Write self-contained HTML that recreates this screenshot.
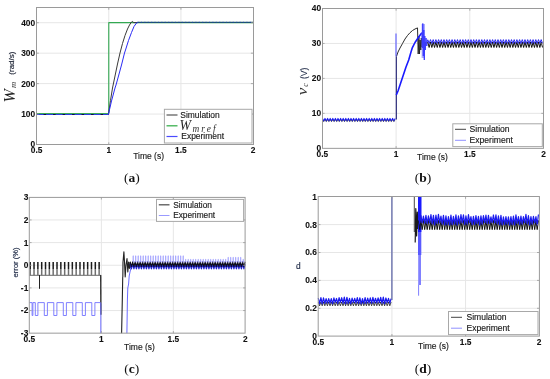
<!DOCTYPE html>
<html><head><meta charset="utf-8"><title>Figure</title>
<style>html,body{margin:0;padding:0;background:#fff;}svg{display:block;filter:blur(0.3px);}</style>
</head><body>
<svg width="550" height="379" viewBox="0 0 550 379">
<rect width="550" height="379" fill="#fff"/>
<line x1="108.77" y1="7.5" x2="108.77" y2="144.5" stroke="#e6e6e6" stroke-width="1" stroke-opacity="1"/>
<line x1="180.93" y1="7.5" x2="180.93" y2="144.5" stroke="#e6e6e6" stroke-width="1" stroke-opacity="1"/>
<line x1="36.6" y1="114.06" x2="253.1" y2="114.06" stroke="#e6e6e6" stroke-width="1" stroke-opacity="1"/>
<line x1="36.6" y1="83.61" x2="253.1" y2="83.61" stroke="#e6e6e6" stroke-width="1" stroke-opacity="1"/>
<line x1="36.6" y1="53.17" x2="253.1" y2="53.17" stroke="#e6e6e6" stroke-width="1" stroke-opacity="1"/>
<line x1="36.6" y1="22.72" x2="253.1" y2="22.72" stroke="#e6e6e6" stroke-width="1" stroke-opacity="1"/>
<line x1="36.6" y1="113.5" x2="108.77" y2="113.5" stroke="#3aaa55" stroke-width="1" stroke-opacity="1"/>
<line x1="36.6" y1="114.5" x2="108.77" y2="114.5" stroke="#101040" stroke-width="1" stroke-opacity="1"/>
<line x1="36.6" y1="114.5" x2="108.77" y2="114.5" stroke="#2a3ae0" stroke-width="1.0" stroke-dasharray="7 2.5"/>
<polyline points="108.77,113.5 108.77,22.6 253.1,22.6" fill="none" stroke="#33a852" stroke-width="1.1" stroke-opacity="1" stroke-linejoin="round" />
<polyline points="108.5,114 110.5,100.5 112.5,88 115,76 117.5,64 120,53 122.5,43.5 125,35.5 127.5,29 129.5,25 131.5,22 132.6,21.4 133.6,22.6 135,22.6 137,22.5" fill="none" stroke="#3a3a3a" stroke-width="1" stroke-opacity="1" stroke-linejoin="round" />
<polyline points="108.5,114 111.5,101 115,88 116,85 118.5,76 121.5,65 124.5,53 125.5,50 128.5,40.5 131.5,32.5 134,26.5 136.5,23 138,22.5" fill="none" stroke="#2b2bf5" stroke-width="1" stroke-opacity="1" stroke-linejoin="round" />
<line x1="137.5" y1="22.4" x2="253.1" y2="22.4" stroke="#1c5a66" stroke-width="1.2" stroke-opacity="1"/>
<line x1="137.5" y1="22.4" x2="253.1" y2="22.4" stroke="#2030c0" stroke-width="1.1" stroke-dasharray="1.2 2.2" stroke-opacity="0.6"/>
<line x1="108.77" y1="144.5" x2="108.77" y2="142.3" stroke="#9a9a9a" stroke-width="0.8" stroke-opacity="1"/>
<line x1="108.77" y1="7.5" x2="108.77" y2="9.7" stroke="#9a9a9a" stroke-width="0.8" stroke-opacity="1"/>
<line x1="180.93" y1="144.5" x2="180.93" y2="142.3" stroke="#9a9a9a" stroke-width="0.8" stroke-opacity="1"/>
<line x1="180.93" y1="7.5" x2="180.93" y2="9.7" stroke="#9a9a9a" stroke-width="0.8" stroke-opacity="1"/>
<line x1="36.6" y1="114.06" x2="38.8" y2="114.06" stroke="#9a9a9a" stroke-width="0.8" stroke-opacity="1"/>
<line x1="253.1" y1="114.06" x2="250.9" y2="114.06" stroke="#9a9a9a" stroke-width="0.8" stroke-opacity="1"/>
<line x1="36.6" y1="83.61" x2="38.8" y2="83.61" stroke="#9a9a9a" stroke-width="0.8" stroke-opacity="1"/>
<line x1="253.1" y1="83.61" x2="250.9" y2="83.61" stroke="#9a9a9a" stroke-width="0.8" stroke-opacity="1"/>
<line x1="36.6" y1="53.17" x2="38.8" y2="53.17" stroke="#9a9a9a" stroke-width="0.8" stroke-opacity="1"/>
<line x1="253.1" y1="53.17" x2="250.9" y2="53.17" stroke="#9a9a9a" stroke-width="0.8" stroke-opacity="1"/>
<line x1="36.6" y1="22.72" x2="38.8" y2="22.72" stroke="#9a9a9a" stroke-width="0.8" stroke-opacity="1"/>
<line x1="253.1" y1="22.72" x2="250.9" y2="22.72" stroke="#9a9a9a" stroke-width="0.8" stroke-opacity="1"/>
<rect x="36.5" y="7.5" width="217" height="137" fill="none" stroke="#9a9a9a" stroke-width="1"/>
<text x="35.2" y="147.4" font-size="8.4" text-anchor="end" font-weight="bold" font-family="'Liberation Sans', Arial, sans-serif" fill="#111" font-style="normal" stroke="#111" stroke-width="0.08">0</text>
<text x="35.2" y="116.96" font-size="8.4" text-anchor="end" font-weight="bold" font-family="'Liberation Sans', Arial, sans-serif" fill="#111" font-style="normal" stroke="#111" stroke-width="0.08">100</text>
<text x="35.2" y="86.51" font-size="8.4" text-anchor="end" font-weight="bold" font-family="'Liberation Sans', Arial, sans-serif" fill="#111" font-style="normal" stroke="#111" stroke-width="0.08">200</text>
<text x="35.2" y="56.07" font-size="8.4" text-anchor="end" font-weight="bold" font-family="'Liberation Sans', Arial, sans-serif" fill="#111" font-style="normal" stroke="#111" stroke-width="0.08">300</text>
<text x="35.2" y="25.62" font-size="8.4" text-anchor="end" font-weight="bold" font-family="'Liberation Sans', Arial, sans-serif" fill="#111" font-style="normal" stroke="#111" stroke-width="0.08">400</text>
<text x="36.6" y="153" font-size="8.4" text-anchor="middle" font-weight="bold" font-family="'Liberation Sans', Arial, sans-serif" fill="#111" font-style="normal" stroke="#111" stroke-width="0.08">0.5</text>
<text x="108.77" y="153" font-size="8.4" text-anchor="middle" font-weight="bold" font-family="'Liberation Sans', Arial, sans-serif" fill="#111" font-style="normal" stroke="#111" stroke-width="0.08">1</text>
<text x="180.93" y="153" font-size="8.4" text-anchor="middle" font-weight="bold" font-family="'Liberation Sans', Arial, sans-serif" fill="#111" font-style="normal" stroke="#111" stroke-width="0.08">1.5</text>
<text x="253.1" y="153" font-size="8.4" text-anchor="middle" font-weight="bold" font-family="'Liberation Sans', Arial, sans-serif" fill="#111" font-style="normal" stroke="#111" stroke-width="0.08">2</text>
<rect x="164.4" y="109.3" width="87.6" height="33.7" fill="#fff" stroke="#a8a8a8" stroke-width="1"/>
<line x1="166.5" y1="115" x2="177.5" y2="115" stroke="#555" stroke-width="1.2" stroke-opacity="1"/>
<text x="180.3" y="117.7" font-size="8.45" text-anchor="start" font-weight="normal" font-family="'Liberation Sans', Arial, sans-serif" fill="#1a1a1a" font-style="normal" stroke="#1a1a1a" stroke-width="0.15">Simulation</text>
<line x1="166.5" y1="125.8" x2="177.5" y2="125.8" stroke="#3cb050" stroke-width="1.3" stroke-opacity="1"/>
<line x1="166.5" y1="136.5" x2="177.5" y2="136.5" stroke="#4a4aff" stroke-width="1.2" stroke-opacity="1"/>
<text x="181.3" y="139.1" font-size="8.45" text-anchor="start" font-weight="normal" font-family="'Liberation Sans', Arial, sans-serif" fill="#1a1a1a" font-style="normal" stroke="#1a1a1a" stroke-width="0.15">Experiment</text>
<text x="179.6" y="130" font-size="13.8" text-anchor="start" font-weight="normal" font-family="'Liberation Serif', 'Times New Roman', serif" fill="#2a2a2a" font-style="italic" >W</text>
<text x="192.4" y="131.6" font-size="9.3" text-anchor="start" font-weight="normal" font-family="'Liberation Serif', 'Times New Roman', serif" fill="#2e2e2e" font-style="italic" letter-spacing="2.2">mref</text>
<g transform="translate(14.4,101.2) rotate(-90)">
<text x="-1.3" y="0.7" font-size="16" text-anchor="start" font-weight="normal" font-family="'Liberation Serif', 'Times New Roman', serif" fill="#222" font-style="italic" >W</text>
<text x="13.2" y="1.5" font-size="8.6" text-anchor="start" font-weight="normal" font-family="'Liberation Serif', 'Times New Roman', serif" fill="#333" font-style="italic" transform="scale(1,0.85)" transform-origin="13.2 1.5">m</text>
<text x="26.5" y="-0.4" font-size="8" text-anchor="start" font-weight="normal" font-family="'Liberation Sans', Arial, sans-serif" fill="#2a3040" font-style="normal" stroke="#2a3040" stroke-width="0.2">(rad/s)</text>
</g>
<text x="133.2" y="159" font-size="8.5" text-anchor="start" font-weight="normal" font-family="'Liberation Sans', Arial, sans-serif" fill="#1a1a1a" font-style="normal" stroke="#1a1a1a" stroke-width="0.15">Time (s)</text>
<text x="131.9" y="182.2" font-size="13.5" text-anchor="middle" font-weight="normal" font-family="'Liberation Serif', 'Times New Roman', serif" fill="#111" font-style="normal" >(<tspan font-weight="bold">a</tspan>)</text>
<line x1="396.1" y1="8.5" x2="396.1" y2="148.3" stroke="#e6e6e6" stroke-width="1" stroke-opacity="1"/>
<line x1="469.8" y1="8.5" x2="469.8" y2="148.3" stroke="#e6e6e6" stroke-width="1" stroke-opacity="1"/>
<line x1="322.4" y1="113.35" x2="543.5" y2="113.35" stroke="#e6e6e6" stroke-width="1" stroke-opacity="1"/>
<line x1="322.4" y1="78.4" x2="543.5" y2="78.4" stroke="#e6e6e6" stroke-width="1" stroke-opacity="1"/>
<line x1="322.4" y1="43.45" x2="543.5" y2="43.45" stroke="#e6e6e6" stroke-width="1" stroke-opacity="1"/>
<polyline points="322.4,118.42 323.7,121.04 325,118.42 326.3,121.04 327.6,118.42 328.9,121.04 330.2,118.42 331.5,121.04 332.8,118.42 334.1,121.04 335.4,118.42 336.7,121.04 338,118.42 339.3,121.04 340.6,118.42 341.9,121.04 343.2,118.42 344.5,121.04 345.8,118.42 347.1,121.04 348.4,118.42 349.7,121.04 351,118.42 352.3,121.04 353.6,118.42 354.9,121.04 356.2,118.42 357.5,121.04 358.8,118.42 360.1,121.04 361.4,118.42 362.7,121.04 364,118.42 365.3,121.04 366.6,118.42 367.9,121.04 369.2,118.42 370.5,121.04 371.8,118.42 373.1,121.04 374.4,118.42 375.7,121.04 377,118.42 378.3,121.04 379.6,118.42 380.9,121.04 382.2,118.42 383.5,121.04 384.8,118.42 386.1,121.04 387.4,118.42 388.7,121.04 390,118.42 391.3,121.04 392.6,118.42 393.9,121.04 395.2,118.42" fill="none" stroke="#2020ee" stroke-width="1.1" stroke-opacity="1" stroke-linejoin="round" />
<polyline points="322.4,120.34 323.7,121.46 325,120.34 326.3,121.46 327.6,120.34 328.9,121.46 330.2,120.34 331.5,121.46 332.8,120.34 334.1,121.46 335.4,120.34 336.7,121.46 338,120.34 339.3,121.46 340.6,120.34 341.9,121.46 343.2,120.34 344.5,121.46 345.8,120.34 347.1,121.46 348.4,120.34 349.7,121.46 351,120.34 352.3,121.46 353.6,120.34 354.9,121.46 356.2,120.34 357.5,121.46 358.8,120.34 360.1,121.46 361.4,120.34 362.7,121.46 364,120.34 365.3,121.46 366.6,120.34 367.9,121.46 369.2,120.34 370.5,121.46 371.8,120.34 373.1,121.46 374.4,120.34 375.7,121.46 377,120.34 378.3,121.46 379.6,120.34 380.9,121.46 382.2,120.34 383.5,121.46 384.8,120.34 386.1,121.46 387.4,120.34 388.7,121.46 390,120.34 391.3,121.46 392.6,120.34 393.9,121.46 395.2,120.34" fill="none" stroke="#111" stroke-width="0.8" stroke-opacity="0.7" stroke-linejoin="round" />
<line x1="396.3" y1="119.5" x2="396.3" y2="56.4" stroke="#1a1a70" stroke-width="1.1" stroke-opacity="1"/>
<polyline points="396.5,56.4 398,52 400,48 402.5,43.5 405,39 407.5,35.5 410,32.7 412.5,30.5 415,29 417.5,27.9 418.2,54 418.9,36 419.5,54 420.1,40 420.8,50 421.3,38 422,47 423,40 424,46 425,42 426,46" fill="none" stroke="#222" stroke-width="0.95" stroke-opacity="1" stroke-linejoin="round" />
<line x1="396" y1="56.4" x2="396" y2="33.5" stroke="#4848ff" stroke-width="1" stroke-opacity="1"/>
<polyline points="396.3,95 398,91 400,85 403,76 406,67 408.7,60 411,52 412.4,47.6 415,42.5 417.7,38.5 420,35.2 421.9,32.7" fill="none" stroke="#1a1aff" stroke-width="1.6" stroke-opacity="1" stroke-linejoin="round" />
<rect x="421.6" y="24" width="3.4" height="34" fill="#6a6aff" fill-opacity="0.55"/>
<polyline points="421.9,32.7 422.3,48 422.8,23.5 423.3,56 423.8,30 424.3,60 424.8,36 425.3,50 426,38 426.8,46 427.5,40" fill="none" stroke="#3a3aff" stroke-width="1" stroke-opacity="1" stroke-linejoin="round" />
<polyline points="427.79,42.05 429.14,47.47 430.49,42.05 431.84,47.47 433.19,42.05 434.54,47.47 435.89,42.05 437.24,47.47 438.59,42.05 439.94,47.47 441.29,42.05 442.64,47.47 443.99,42.05 445.34,47.47 446.69,42.05 448.04,47.47 449.39,42.05 450.74,47.47 452.09,42.05 453.44,47.47 454.79,42.05 456.14,47.47 457.49,42.05 458.84,47.47 460.19,42.05 461.54,47.47 462.89,42.05 464.24,47.47 465.59,42.05 466.94,47.47 468.29,42.05 469.64,47.47 470.99,42.05 472.34,47.47 473.69,42.05 475.04,47.47 476.39,42.05 477.74,47.47 479.09,42.05 480.44,47.47 481.79,42.05 483.14,47.47 484.49,42.05 485.84,47.47 487.19,42.05 488.54,47.47 489.89,42.05 491.24,47.47 492.59,42.05 493.94,47.47 495.29,42.05 496.64,47.47 497.99,42.05 499.34,47.47 500.69,42.05 502.04,47.47 503.39,42.05 504.74,47.47 506.09,42.05 507.44,47.47 508.79,42.05 510.14,47.47 511.49,42.05 512.84,47.47 514.19,42.05 515.54,47.47 516.89,42.05 518.24,47.47 519.59,42.05 520.94,47.47 522.29,42.05 523.64,47.47 524.99,42.05 526.34,47.47 527.69,42.05 529.04,47.47 530.39,42.05 531.74,47.47 533.09,42.05 534.44,47.47 535.79,42.05 537.14,47.47 538.49,42.05 539.84,47.47 541.19,42.05 542.54,47.47" fill="none" stroke="#111" stroke-width="1" stroke-opacity="1" stroke-linejoin="round" />
<polyline points="427.79,39.61 429.14,43.45 430.49,39.61 431.84,43.45 433.19,39.61 434.54,43.45 435.89,39.61 437.24,43.45 438.59,39.61 439.94,43.45 441.29,39.61 442.64,43.45 443.99,39.61 445.34,43.45 446.69,39.61 448.04,43.45 449.39,39.61 450.74,43.45 452.09,39.61 453.44,43.45 454.79,39.61 456.14,43.45 457.49,39.61 458.84,43.45 460.19,39.61 461.54,43.45 462.89,39.61 464.24,43.45 465.59,39.61 466.94,43.45 468.29,39.61 469.64,43.45 470.99,39.61 472.34,43.45 473.69,39.61 475.04,43.45 476.39,39.61 477.74,43.45 479.09,39.61 480.44,43.45 481.79,39.61 483.14,43.45 484.49,39.61 485.84,43.45 487.19,39.61 488.54,43.45 489.89,39.61 491.24,43.45 492.59,39.61 493.94,43.45 495.29,39.61 496.64,43.45 497.99,39.61 499.34,43.45 500.69,39.61 502.04,43.45 503.39,39.61 504.74,43.45 506.09,39.61 507.44,43.45 508.79,39.61 510.14,43.45 511.49,39.61 512.84,43.45 514.19,39.61 515.54,43.45 516.89,39.61 518.24,43.45 519.59,39.61 520.94,43.45 522.29,39.61 523.64,43.45 524.99,39.61 526.34,43.45 527.69,39.61 529.04,43.45 530.39,39.61 531.74,43.45 533.09,39.61 534.44,43.45 535.79,39.61 537.14,43.45 538.49,39.61 539.84,43.45 541.19,39.61 542.54,43.45" fill="none" stroke="#2828f0" stroke-width="1" stroke-opacity="1" stroke-linejoin="round" />
<line x1="396.1" y1="148.3" x2="396.1" y2="146.1" stroke="#9a9a9a" stroke-width="0.8" stroke-opacity="1"/>
<line x1="396.1" y1="8.5" x2="396.1" y2="10.7" stroke="#9a9a9a" stroke-width="0.8" stroke-opacity="1"/>
<line x1="469.8" y1="148.3" x2="469.8" y2="146.1" stroke="#9a9a9a" stroke-width="0.8" stroke-opacity="1"/>
<line x1="469.8" y1="8.5" x2="469.8" y2="10.7" stroke="#9a9a9a" stroke-width="0.8" stroke-opacity="1"/>
<line x1="322.4" y1="113.35" x2="324.6" y2="113.35" stroke="#9a9a9a" stroke-width="0.8" stroke-opacity="1"/>
<line x1="543.5" y1="113.35" x2="541.3" y2="113.35" stroke="#9a9a9a" stroke-width="0.8" stroke-opacity="1"/>
<line x1="322.4" y1="78.4" x2="324.6" y2="78.4" stroke="#9a9a9a" stroke-width="0.8" stroke-opacity="1"/>
<line x1="543.5" y1="78.4" x2="541.3" y2="78.4" stroke="#9a9a9a" stroke-width="0.8" stroke-opacity="1"/>
<line x1="322.4" y1="43.45" x2="324.6" y2="43.45" stroke="#9a9a9a" stroke-width="0.8" stroke-opacity="1"/>
<line x1="543.5" y1="43.45" x2="541.3" y2="43.45" stroke="#9a9a9a" stroke-width="0.8" stroke-opacity="1"/>
<rect x="322.5" y="8.5" width="221" height="139.85" fill="none" stroke="#9a9a9a" stroke-width="1"/>
<text x="321.1" y="151.2" font-size="8.4" text-anchor="end" font-weight="bold" font-family="'Liberation Sans', Arial, sans-serif" fill="#111" font-style="normal" stroke="#111" stroke-width="0.08">0</text>
<text x="321.1" y="116.25" font-size="8.4" text-anchor="end" font-weight="bold" font-family="'Liberation Sans', Arial, sans-serif" fill="#111" font-style="normal" stroke="#111" stroke-width="0.08">10</text>
<text x="321.1" y="81.3" font-size="8.4" text-anchor="end" font-weight="bold" font-family="'Liberation Sans', Arial, sans-serif" fill="#111" font-style="normal" stroke="#111" stroke-width="0.08">20</text>
<text x="321.1" y="46.35" font-size="8.4" text-anchor="end" font-weight="bold" font-family="'Liberation Sans', Arial, sans-serif" fill="#111" font-style="normal" stroke="#111" stroke-width="0.08">30</text>
<text x="321.1" y="11.4" font-size="8.4" text-anchor="end" font-weight="bold" font-family="'Liberation Sans', Arial, sans-serif" fill="#111" font-style="normal" stroke="#111" stroke-width="0.08">40</text>
<text x="322.4" y="157.3" font-size="8.4" text-anchor="middle" font-weight="bold" font-family="'Liberation Sans', Arial, sans-serif" fill="#111" font-style="normal" stroke="#111" stroke-width="0.08">0.5</text>
<text x="396.1" y="157.3" font-size="8.4" text-anchor="middle" font-weight="bold" font-family="'Liberation Sans', Arial, sans-serif" fill="#111" font-style="normal" stroke="#111" stroke-width="0.08">1</text>
<text x="469.8" y="157.3" font-size="8.4" text-anchor="middle" font-weight="bold" font-family="'Liberation Sans', Arial, sans-serif" fill="#111" font-style="normal" stroke="#111" stroke-width="0.08">1.5</text>
<text x="543.5" y="157.3" font-size="8.4" text-anchor="middle" font-weight="bold" font-family="'Liberation Sans', Arial, sans-serif" fill="#111" font-style="normal" stroke="#111" stroke-width="0.08">2</text>
<rect x="452.8" y="123.8" width="89.5" height="22.8" fill="#fff" stroke="#a8a8a8" stroke-width="1"/>
<line x1="455" y1="129.3" x2="466" y2="129.3" stroke="#444" stroke-width="1" stroke-opacity="1"/>
<text x="469.5" y="132.4" font-size="8.6" text-anchor="start" font-weight="normal" font-family="'Liberation Sans', Arial, sans-serif" fill="#1a1a1a" font-style="normal" stroke="#1a1a1a" stroke-width="0.15">Simulation</text>
<line x1="455" y1="140.3" x2="466" y2="140.3" stroke="#9090ff" stroke-width="1" stroke-opacity="1"/>
<text x="469.5" y="142.5" font-size="8.6" text-anchor="start" font-weight="normal" font-family="'Liberation Sans', Arial, sans-serif" fill="#1a1a1a" font-style="normal" stroke="#1a1a1a" stroke-width="0.15">Experiment</text>
<g transform="translate(306.6,95.3) rotate(-90)">
<text x="0" y="0" font-size="14.5" text-anchor="start" font-weight="normal" font-family="'Liberation Serif', 'Times New Roman', serif" fill="#333" font-style="italic" transform="scale(1.18,1)">v</text>
<text x="8.6" y="1.2" font-size="8" text-anchor="start" font-weight="normal" font-family="'Liberation Serif', 'Times New Roman', serif" fill="#444" font-style="italic" >c</text>
<text x="16.3" y="0.2" font-size="8.6" text-anchor="start" font-weight="normal" font-family="'Liberation Sans', Arial, sans-serif" fill="#2a3550" font-style="normal" stroke="#2a3550" stroke-width="0.15">(V)</text>
</g>
<text x="417.1" y="159.7" font-size="8.5" text-anchor="start" font-weight="normal" font-family="'Liberation Sans', Arial, sans-serif" fill="#1a1a1a" font-style="normal" stroke="#1a1a1a" stroke-width="0.15">Time (s)</text>
<text x="423" y="181.8" font-size="13.5" text-anchor="middle" font-weight="normal" font-family="'Liberation Serif', 'Times New Roman', serif" fill="#111" font-style="normal" >(<tspan font-weight="bold">b</tspan>)</text>
<line x1="101.37" y1="197.3" x2="101.37" y2="333.2" stroke="#e6e6e6" stroke-width="1" stroke-opacity="1"/>
<line x1="173.33" y1="197.3" x2="173.33" y2="333.2" stroke="#e6e6e6" stroke-width="1" stroke-opacity="1"/>
<line x1="29.4" y1="310.55" x2="245.3" y2="310.55" stroke="#e6e6e6" stroke-width="1" stroke-opacity="1"/>
<line x1="29.4" y1="287.9" x2="245.3" y2="287.9" stroke="#e6e6e6" stroke-width="1" stroke-opacity="1"/>
<line x1="29.4" y1="265.25" x2="245.3" y2="265.25" stroke="#e6e6e6" stroke-width="1" stroke-opacity="1"/>
<line x1="29.4" y1="242.6" x2="245.3" y2="242.6" stroke="#e6e6e6" stroke-width="1" stroke-opacity="1"/>
<line x1="29.4" y1="219.95" x2="245.3" y2="219.95" stroke="#e6e6e6" stroke-width="1" stroke-opacity="1"/>
<line x1="29.4" y1="275.3" x2="100.6" y2="275.3" stroke="#6a6a6a" stroke-width="1" stroke-opacity="1"/>
<line x1="30.2" y1="262" x2="30.2" y2="269" stroke="#1a1a1a" stroke-width="1.5" stroke-opacity="1"/>
<line x1="30.2" y1="269" x2="30.2" y2="275.3" stroke="#707070" stroke-width="1.5" stroke-opacity="1"/>
<line x1="34.03" y1="262" x2="34.03" y2="269" stroke="#1a1a1a" stroke-width="1.5" stroke-opacity="1"/>
<line x1="34.03" y1="269" x2="34.03" y2="275.3" stroke="#707070" stroke-width="1.5" stroke-opacity="1"/>
<line x1="37.86" y1="262" x2="37.86" y2="269" stroke="#1a1a1a" stroke-width="1.5" stroke-opacity="1"/>
<line x1="37.86" y1="269" x2="37.86" y2="275.3" stroke="#707070" stroke-width="1.5" stroke-opacity="1"/>
<line x1="41.69" y1="262" x2="41.69" y2="269" stroke="#1a1a1a" stroke-width="1.5" stroke-opacity="1"/>
<line x1="41.69" y1="269" x2="41.69" y2="275.3" stroke="#707070" stroke-width="1.5" stroke-opacity="1"/>
<line x1="45.52" y1="262" x2="45.52" y2="269" stroke="#1a1a1a" stroke-width="1.5" stroke-opacity="1"/>
<line x1="45.52" y1="269" x2="45.52" y2="275.3" stroke="#707070" stroke-width="1.5" stroke-opacity="1"/>
<line x1="49.35" y1="262" x2="49.35" y2="269" stroke="#1a1a1a" stroke-width="1.5" stroke-opacity="1"/>
<line x1="49.35" y1="269" x2="49.35" y2="275.3" stroke="#707070" stroke-width="1.5" stroke-opacity="1"/>
<line x1="53.18" y1="262" x2="53.18" y2="269" stroke="#1a1a1a" stroke-width="1.5" stroke-opacity="1"/>
<line x1="53.18" y1="269" x2="53.18" y2="275.3" stroke="#707070" stroke-width="1.5" stroke-opacity="1"/>
<line x1="57.01" y1="262" x2="57.01" y2="269" stroke="#1a1a1a" stroke-width="1.5" stroke-opacity="1"/>
<line x1="57.01" y1="269" x2="57.01" y2="275.3" stroke="#707070" stroke-width="1.5" stroke-opacity="1"/>
<line x1="60.84" y1="262" x2="60.84" y2="269" stroke="#1a1a1a" stroke-width="1.5" stroke-opacity="1"/>
<line x1="60.84" y1="269" x2="60.84" y2="275.3" stroke="#707070" stroke-width="1.5" stroke-opacity="1"/>
<line x1="64.67" y1="262" x2="64.67" y2="269" stroke="#1a1a1a" stroke-width="1.5" stroke-opacity="1"/>
<line x1="64.67" y1="269" x2="64.67" y2="275.3" stroke="#707070" stroke-width="1.5" stroke-opacity="1"/>
<line x1="68.5" y1="262" x2="68.5" y2="269" stroke="#1a1a1a" stroke-width="1.5" stroke-opacity="1"/>
<line x1="68.5" y1="269" x2="68.5" y2="275.3" stroke="#707070" stroke-width="1.5" stroke-opacity="1"/>
<line x1="72.33" y1="262" x2="72.33" y2="269" stroke="#1a1a1a" stroke-width="1.5" stroke-opacity="1"/>
<line x1="72.33" y1="269" x2="72.33" y2="275.3" stroke="#707070" stroke-width="1.5" stroke-opacity="1"/>
<line x1="76.16" y1="262" x2="76.16" y2="269" stroke="#1a1a1a" stroke-width="1.5" stroke-opacity="1"/>
<line x1="76.16" y1="269" x2="76.16" y2="275.3" stroke="#707070" stroke-width="1.5" stroke-opacity="1"/>
<line x1="79.99" y1="262" x2="79.99" y2="269" stroke="#1a1a1a" stroke-width="1.5" stroke-opacity="1"/>
<line x1="79.99" y1="269" x2="79.99" y2="275.3" stroke="#707070" stroke-width="1.5" stroke-opacity="1"/>
<line x1="83.82" y1="262" x2="83.82" y2="269" stroke="#1a1a1a" stroke-width="1.5" stroke-opacity="1"/>
<line x1="83.82" y1="269" x2="83.82" y2="275.3" stroke="#707070" stroke-width="1.5" stroke-opacity="1"/>
<line x1="87.65" y1="262" x2="87.65" y2="269" stroke="#1a1a1a" stroke-width="1.5" stroke-opacity="1"/>
<line x1="87.65" y1="269" x2="87.65" y2="275.3" stroke="#707070" stroke-width="1.5" stroke-opacity="1"/>
<line x1="91.48" y1="262" x2="91.48" y2="269" stroke="#1a1a1a" stroke-width="1.5" stroke-opacity="1"/>
<line x1="91.48" y1="269" x2="91.48" y2="275.3" stroke="#707070" stroke-width="1.5" stroke-opacity="1"/>
<line x1="95.31" y1="262" x2="95.31" y2="269" stroke="#1a1a1a" stroke-width="1.5" stroke-opacity="1"/>
<line x1="95.31" y1="269" x2="95.31" y2="275.3" stroke="#707070" stroke-width="1.5" stroke-opacity="1"/>
<line x1="99.14" y1="262" x2="99.14" y2="269" stroke="#1a1a1a" stroke-width="1.5" stroke-opacity="1"/>
<line x1="99.14" y1="269" x2="99.14" y2="275.3" stroke="#707070" stroke-width="1.5" stroke-opacity="1"/>
<line x1="39.5" y1="275" x2="39.5" y2="288.8" stroke="#222" stroke-width="1" stroke-opacity="1"/>
<polyline points="100.7,275 100.9,314.7" fill="none" stroke="#333" stroke-width="1.4" stroke-opacity="1" stroke-linejoin="round" />
<polyline points="29.4,302.6 32.1,302.6 32.1,315.5 32.9,315.5 32.9,302.6 35.3,302.6 35.3,315.5 37.9,315.5 37.9,302.6 44.3,302.6 44.3,315.5 47.4,315.5 47.4,302.6 53.8,302.6 53.8,315.5 56.9,315.5 56.9,302.6 63.3,302.6 63.3,315.5 66.4,315.5 66.4,302.6 72.8,302.6 72.8,315.5 75.9,315.5 75.9,302.6 82.3,302.6 82.3,315.5 85.4,315.5 85.4,302.6 91.8,302.6 91.8,315.5 94.9,315.5 94.9,302.6 100.6,302.6" fill="none" stroke="#7272ff" stroke-width="0.9" stroke-opacity="1" stroke-linejoin="round" stroke-linejoin="miter"/>
<line x1="100.8" y1="302.8" x2="100.8" y2="333.2" stroke="#7070ff" stroke-width="1" stroke-opacity="1"/>
<polyline points="121.6,333.2 122.3,300 123,262 123.9,251.9 124.5,262 125.2,277 126,265 127,258.5 127.8,272 128.6,262 129.4,268.5 130.2,262 131,268" fill="none" stroke="#222" stroke-width="1.1" stroke-opacity="1" stroke-linejoin="round" />
<line x1="122.9" y1="262" x2="122.9" y2="277" stroke="#777" stroke-width="0.8" stroke-opacity="1"/>
<polyline points="126.9,333.2 127.4,300 127.8,288 128.6,284 129.2,276 130,272 130.8,268.7 131.6,264" fill="none" stroke="#6a6aff" stroke-width="1" stroke-opacity="1" stroke-linejoin="round" />
<polyline points="130.15,264 131.4,268.81 132.65,264 133.9,268.81 135.15,264 136.4,268.81 137.65,264 138.9,268.81 140.15,264 141.4,268.81 142.65,264 143.9,268.81 145.15,264 146.4,268.81 147.65,264 148.9,268.81 150.15,264 151.4,268.81 152.65,264 153.9,268.81 155.15,264 156.4,268.81 157.65,264 158.9,268.81 160.15,264 161.4,268.81 162.65,264 163.9,268.81 165.15,264 166.4,268.81 167.65,264 168.9,268.81 170.15,264 171.4,268.81 172.65,264 173.9,268.81 175.15,264 176.4,268.81 177.65,264 178.9,268.81 180.15,264 181.4,268.81 182.65,264 183.9,268.81 185.15,264 186.4,268.81 187.65,264 188.9,268.81 190.15,264 191.4,268.81 192.65,264 193.9,268.81 195.15,264 196.4,268.81 197.65,264 198.9,268.81 200.15,264 201.4,268.81 202.65,264 203.9,268.81 205.15,264 206.4,268.81 207.65,264 208.9,268.81 210.15,264 211.4,268.81 212.65,264 213.9,268.81 215.15,264 216.4,268.81 217.65,264 218.9,268.81 220.15,264 221.4,268.81 222.65,264 223.9,268.81 225.15,264 226.4,268.81 227.65,264 228.9,268.81 230.15,264 231.4,268.81 232.65,264 233.9,268.81 235.15,264 236.4,268.81 237.65,264 238.9,268.81 240.15,264 241.4,268.81 242.65,264 243.9,268.81 245.15,264" fill="none" stroke="#2020d0" stroke-width="1.2" stroke-opacity="1" stroke-linejoin="round" />
<polyline points="130.15,261.81 131.4,266.5 132.65,261.81 133.9,266.5 135.15,261.81 136.4,266.5 137.65,261.81 138.9,266.5 140.15,261.81 141.4,266.5 142.65,261.81 143.9,266.5 145.15,261.81 146.4,266.5 147.65,261.81 148.9,266.5 150.15,261.81 151.4,266.5 152.65,261.81 153.9,266.5 155.15,261.81 156.4,266.5 157.65,261.81 158.9,266.5 160.15,261.81 161.4,266.5 162.65,261.81 163.9,266.5 165.15,261.81 166.4,266.5 167.65,261.81 168.9,266.5 170.15,261.81 171.4,266.5 172.65,261.81 173.9,266.5 175.15,261.81 176.4,266.5 177.65,261.81 178.9,266.5 180.15,261.81 181.4,266.5 182.65,261.81 183.9,266.5 185.15,261.81 186.4,266.5 187.65,261.81 188.9,266.5 190.15,261.81 191.4,266.5 192.65,261.81 193.9,266.5 195.15,261.81 196.4,266.5 197.65,261.81 198.9,266.5 200.15,261.81 201.4,266.5 202.65,261.81 203.9,266.5 205.15,261.81 206.4,266.5 207.65,261.81 208.9,266.5 210.15,261.81 211.4,266.5 212.65,261.81 213.9,266.5 215.15,261.81 216.4,266.5 217.65,261.81 218.9,266.5 220.15,261.81 221.4,266.5 222.65,261.81 223.9,266.5 225.15,261.81 226.4,266.5 227.65,261.81 228.9,266.5 230.15,261.81 231.4,266.5 232.65,261.81 233.9,266.5 235.15,261.81 236.4,266.5 237.65,261.81 238.9,266.5 240.15,261.81 241.4,266.5 242.65,261.81 243.9,266.5 245.15,261.81" fill="none" stroke="#101020" stroke-width="1.1" stroke-opacity="1" stroke-linejoin="round" />
<polyline points="133,262 133,255.8 133.4,255.8 133.4,262 135.5,262 135.5,262 135.5,255.8 135.9,255.8 135.9,262 138,262 138,262 138,255.8 138.4,255.8 138.4,262 140.5,262 140.5,262 140.5,255.8 140.9,255.8 140.9,262 143,262 143,262 143,255.8 143.4,255.8 143.4,262 145.5,262 145.5,262 145.5,255.8 145.9,255.8 145.9,262 148,262 148,262 148,255.8 148.4,255.8 148.4,262 150.5,262 150.5,262 150.5,255.8 150.9,255.8 150.9,262 153,262 153,262 153,255.8 153.4,255.8 153.4,262 155.5,262 155.5,262 155.5,255.8 155.9,255.8 155.9,262 158,262 158,262 158,255.8 158.4,255.8 158.4,262 160.5,262 160.5,262 160.5,255.8 160.9,255.8 160.9,262 163,262 163,262 163,255.8 163.4,255.8 163.4,262 165.5,262 165.5,262 165.5,255.8 165.9,255.8 165.9,262 168,262 168,262 168,255.8 168.4,255.8 168.4,262 170.5,262 170.5,262 170.5,255.8 170.9,255.8 170.9,262 173,262 173,262 173,255.8 173.4,255.8 173.4,262 175.5,262 175.5,262 175.5,255.8 175.9,255.8 175.9,262 178,262 178,262 178,255.8 178.4,255.8 178.4,262 180.5,262 180.5,262 180.5,255.8 180.9,255.8 180.9,262 183,262 183,262 183,255.8 183.4,255.8 183.4,262 185.5,262 185.5,262 185.5,259.3 185.9,259.3 185.9,262 188,262 188,262 188,259.3 188.4,259.3 188.4,262 190.5,262 190.5,262 190.5,259.3 190.9,259.3 190.9,262 193,262 193,262 193,259.3 193.4,259.3 193.4,262 195.5,262 195.5,262 195.5,259.3 195.9,259.3 195.9,262 198,262 198,262 198,259.3 198.4,259.3 198.4,262 200.5,262 200.5,262 200.5,259.3 200.9,259.3 200.9,262 203,262 203,262 203,259.3 203.4,259.3 203.4,262 205.5,262 205.5,262 205.5,259.3 205.9,259.3 205.9,262 208,262 208,262 208,259.3 208.4,259.3 208.4,262 210.5,262 210.5,262 210.5,259.3 210.9,259.3 210.9,262 213,262 213,262 213,259.3 213.4,259.3 213.4,262 215.5,262 215.5,262 215.5,259.3 215.9,259.3 215.9,262 218,262 218,262 218,259.3 218.4,259.3 218.4,262 220.5,262 220.5,262 220.5,259.3 220.9,259.3 220.9,262 223,262 223,262 223,259.3 223.4,259.3 223.4,262 225.5,262 225.5,262 225.5,259.3 225.9,259.3 225.9,262 228,262 228,262 228,257.3 228.4,257.3 228.4,262 230.5,262 230.5,262 230.5,257.3 230.9,257.3 230.9,262 233,262 233,262 233,257.3 233.4,257.3 233.4,262 235.5,262 235.5,262 235.5,257.3 235.9,257.3 235.9,262 238,262 238,262 238,257.3 238.4,257.3 238.4,262 240.5,262 240.5,262 240.5,257.3 240.9,257.3 240.9,262 243,262 243,262 243,259.3 243.4,259.3 243.4,262 245.5,262" fill="none" stroke="#8a8aff" stroke-width="0.55" stroke-opacity="1" stroke-linejoin="round" />
<line x1="101.37" y1="333.2" x2="101.37" y2="331" stroke="#9a9a9a" stroke-width="0.8" stroke-opacity="1"/>
<line x1="101.37" y1="197.3" x2="101.37" y2="199.5" stroke="#9a9a9a" stroke-width="0.8" stroke-opacity="1"/>
<line x1="173.33" y1="333.2" x2="173.33" y2="331" stroke="#9a9a9a" stroke-width="0.8" stroke-opacity="1"/>
<line x1="173.33" y1="197.3" x2="173.33" y2="199.5" stroke="#9a9a9a" stroke-width="0.8" stroke-opacity="1"/>
<line x1="29.4" y1="310.55" x2="31.6" y2="310.55" stroke="#9a9a9a" stroke-width="0.8" stroke-opacity="1"/>
<line x1="245.3" y1="310.55" x2="243.1" y2="310.55" stroke="#9a9a9a" stroke-width="0.8" stroke-opacity="1"/>
<line x1="29.4" y1="287.9" x2="31.6" y2="287.9" stroke="#9a9a9a" stroke-width="0.8" stroke-opacity="1"/>
<line x1="245.3" y1="287.9" x2="243.1" y2="287.9" stroke="#9a9a9a" stroke-width="0.8" stroke-opacity="1"/>
<line x1="29.4" y1="265.25" x2="31.6" y2="265.25" stroke="#9a9a9a" stroke-width="0.8" stroke-opacity="1"/>
<line x1="245.3" y1="265.25" x2="243.1" y2="265.25" stroke="#9a9a9a" stroke-width="0.8" stroke-opacity="1"/>
<line x1="29.4" y1="242.6" x2="31.6" y2="242.6" stroke="#9a9a9a" stroke-width="0.8" stroke-opacity="1"/>
<line x1="245.3" y1="242.6" x2="243.1" y2="242.6" stroke="#9a9a9a" stroke-width="0.8" stroke-opacity="1"/>
<line x1="29.4" y1="219.95" x2="31.6" y2="219.95" stroke="#9a9a9a" stroke-width="0.8" stroke-opacity="1"/>
<line x1="245.3" y1="219.95" x2="243.1" y2="219.95" stroke="#9a9a9a" stroke-width="0.8" stroke-opacity="1"/>
<rect x="29.3" y="197.4" width="215.8" height="135.75" fill="none" stroke="#9a9a9a" stroke-width="1"/>
<text x="28.3" y="336.1" font-size="8.4" text-anchor="end" font-weight="bold" font-family="'Liberation Sans', Arial, sans-serif" fill="#111" font-style="normal" stroke="#111" stroke-width="0.08">-3</text>
<text x="28.3" y="313.45" font-size="8.4" text-anchor="end" font-weight="bold" font-family="'Liberation Sans', Arial, sans-serif" fill="#111" font-style="normal" stroke="#111" stroke-width="0.08">-2</text>
<text x="28.3" y="290.8" font-size="8.4" text-anchor="end" font-weight="bold" font-family="'Liberation Sans', Arial, sans-serif" fill="#111" font-style="normal" stroke="#111" stroke-width="0.08">-1</text>
<text x="28.3" y="268.15" font-size="8.4" text-anchor="end" font-weight="bold" font-family="'Liberation Sans', Arial, sans-serif" fill="#111" font-style="normal" stroke="#111" stroke-width="0.08">0</text>
<text x="28.3" y="245.5" font-size="8.4" text-anchor="end" font-weight="bold" font-family="'Liberation Sans', Arial, sans-serif" fill="#111" font-style="normal" stroke="#111" stroke-width="0.08">1</text>
<text x="28.3" y="222.85" font-size="8.4" text-anchor="end" font-weight="bold" font-family="'Liberation Sans', Arial, sans-serif" fill="#111" font-style="normal" stroke="#111" stroke-width="0.08">2</text>
<text x="28.3" y="200.2" font-size="8.4" text-anchor="end" font-weight="bold" font-family="'Liberation Sans', Arial, sans-serif" fill="#111" font-style="normal" stroke="#111" stroke-width="0.08">3</text>
<text x="29.4" y="341.9" font-size="8.4" text-anchor="middle" font-weight="bold" font-family="'Liberation Sans', Arial, sans-serif" fill="#111" font-style="normal" stroke="#111" stroke-width="0.08">0.5</text>
<text x="101.37" y="341.9" font-size="8.4" text-anchor="middle" font-weight="bold" font-family="'Liberation Sans', Arial, sans-serif" fill="#111" font-style="normal" stroke="#111" stroke-width="0.08">1</text>
<text x="173.33" y="341.9" font-size="8.4" text-anchor="middle" font-weight="bold" font-family="'Liberation Sans', Arial, sans-serif" fill="#111" font-style="normal" stroke="#111" stroke-width="0.08">1.5</text>
<text x="245.3" y="341.9" font-size="8.4" text-anchor="middle" font-weight="bold" font-family="'Liberation Sans', Arial, sans-serif" fill="#111" font-style="normal" stroke="#111" stroke-width="0.08">2</text>
<rect x="156.5" y="199.4" width="87.1" height="22" fill="#fff" stroke="#a8a8a8" stroke-width="1"/>
<line x1="158.8" y1="204.8" x2="169.5" y2="204.8" stroke="#555" stroke-width="1.3" stroke-opacity="1"/>
<text x="173.2" y="207.6" font-size="8.3" text-anchor="start" font-weight="normal" font-family="'Liberation Sans', Arial, sans-serif" fill="#1a1a1a" font-style="normal" stroke="#1a1a1a" stroke-width="0.15">Simulation</text>
<line x1="158.8" y1="215.5" x2="169.5" y2="215.5" stroke="#9a9aff" stroke-width="1" stroke-opacity="1"/>
<text x="173.2" y="217.9" font-size="8.3" text-anchor="start" font-weight="normal" font-family="'Liberation Sans', Arial, sans-serif" fill="#1a1a1a" font-style="normal" stroke="#1a1a1a" stroke-width="0.15">Experiment</text>
<g transform="translate(17.9,277.4) rotate(-90)">
<text x="0" y="0" font-size="7.6" text-anchor="start" font-weight="normal" font-family="'Liberation Sans', Arial, sans-serif" fill="#2a3550" font-style="normal" stroke="#2a3550" stroke-width="0.2">error (%)</text>
</g>
<text x="124.1" y="350" font-size="8.5" text-anchor="start" font-weight="normal" font-family="'Liberation Sans', Arial, sans-serif" fill="#1a1a1a" font-style="normal" stroke="#1a1a1a" stroke-width="0.15">Time (s)</text>
<text x="131.85" y="372.6" font-size="13.5" text-anchor="middle" font-weight="normal" font-family="'Liberation Serif', 'Times New Roman', serif" fill="#111" font-style="normal" >(<tspan font-weight="bold">c</tspan>)</text>
<line x1="391.93" y1="196.7" x2="391.93" y2="336.2" stroke="#e6e6e6" stroke-width="1" stroke-opacity="1"/>
<line x1="465.57" y1="196.7" x2="465.57" y2="336.2" stroke="#e6e6e6" stroke-width="1" stroke-opacity="1"/>
<line x1="318.3" y1="308.3" x2="539.2" y2="308.3" stroke="#e6e6e6" stroke-width="1" stroke-opacity="1"/>
<line x1="318.3" y1="280.4" x2="539.2" y2="280.4" stroke="#e6e6e6" stroke-width="1" stroke-opacity="1"/>
<line x1="318.3" y1="252.5" x2="539.2" y2="252.5" stroke="#e6e6e6" stroke-width="1" stroke-opacity="1"/>
<line x1="318.3" y1="224.6" x2="539.2" y2="224.6" stroke="#e6e6e6" stroke-width="1" stroke-opacity="1"/>
<polyline points="318.3,302.02 319.6,305.79 320.9,302.02 322.2,305.79 323.5,302.02 324.8,305.79 326.1,302.02 327.4,305.79 328.7,302.02 330,305.79 331.3,302.02 332.6,305.79 333.9,302.02 335.2,305.79 336.5,302.02 337.8,305.79 339.1,302.02 340.4,305.79 341.7,302.02 343,305.79 344.3,302.02 345.6,305.79 346.9,302.02 348.2,305.79 349.5,302.02 350.8,305.79 352.1,302.02 353.4,305.79 354.7,302.02 356,305.79 357.3,302.02 358.6,305.79 359.9,302.02 361.2,305.79 362.5,302.02 363.8,305.79 365.1,302.02 366.4,305.79 367.7,302.02 369,305.79 370.3,302.02 371.6,305.79 372.9,302.02 374.2,305.79 375.5,302.02 376.8,305.79 378.1,302.02 379.4,305.79 380.7,302.02 382,305.79 383.3,302.02 384.6,305.79 385.9,302.02 387.2,305.79 388.5,302.02 389.8,305.79 391.1,302.02" fill="none" stroke="#111" stroke-width="0.9" stroke-opacity="0.85" stroke-linejoin="round" />
<polyline points="318.3,298.13 319.6,303.72 320.9,297.58 322.2,303.85 323.5,297.78 324.8,303.36 326.1,298.58 327.4,303.13 328.7,298.61 330,303.25 331.3,298.56 332.6,303.82 333.9,297.96 335.2,302.59 336.5,298.47 337.8,303.6 339.1,297.62 340.4,302.39 341.7,297.71 343,303.31 344.3,297.04 345.6,303.9 346.9,297.24 348.2,303.49 349.5,298.43 350.8,303.78 352.1,298.16 353.4,302.61 354.7,298.37 356,303 357.3,297.6 358.6,303.35 359.9,297.76 361.2,303.87 362.5,298.57 363.8,303.63 365.1,297.54 366.4,303.26 367.7,298.15 369,303 370.3,297.92 371.6,303.47 372.9,297.34 374.2,302.81 375.5,298.27 376.8,303.01 378.1,297.8 379.4,302.51 380.7,297.45 382,303.49 383.3,297.03 384.6,303.78 385.9,297.97 387.2,302.71 388.5,298.42 389.8,303.16 391.1,298.61" fill="none" stroke="#1a1aee" stroke-width="1.2" stroke-opacity="1" stroke-linejoin="round" />
<line x1="391.9" y1="300" x2="391.9" y2="196.7" stroke="#6068a8" stroke-width="1.3" stroke-opacity="1"/>
<line x1="414.3" y1="196.7" x2="414.3" y2="232" stroke="#333" stroke-width="0.9" stroke-opacity="1"/>
<polyline points="415.2,242.4 415.8,208.5 416.6,236 417.3,212 418,229" fill="none" stroke="#1a1a1a" stroke-width="1.2" stroke-opacity="1" stroke-linejoin="round" />
<rect x="418" y="196.7" width="3.5" height="35.3" fill="#1a1aff"/>
<rect x="418" y="232" width="3.3" height="23" fill="#5a5aff"/>
<rect x="418.2" y="255" width="2.8" height="30" fill="#8080ff"/>
<line x1="418.6" y1="285" x2="418.6" y2="295.7" stroke="#7070ff" stroke-width="0.9" stroke-opacity="1"/>
<polyline points="418.44,220.41 419.69,229.62 420.94,220.41 422.19,229.62 423.44,220.41 424.69,229.62 425.94,220.41 427.19,229.62 428.44,220.41 429.69,229.62 430.94,220.41 432.19,229.62 433.44,220.41 434.69,229.62 435.94,220.41 437.19,229.62 438.44,220.41 439.69,229.62 440.94,220.41 442.19,229.62 443.44,220.41 444.69,229.62 445.94,220.41 447.19,229.62 448.44,220.41 449.69,229.62 450.94,220.41 452.19,229.62 453.44,220.41 454.69,229.62 455.94,220.41 457.19,229.62 458.44,220.41 459.69,229.62 460.94,220.41 462.19,229.62 463.44,220.41 464.69,229.62 465.94,220.41 467.19,229.62 468.44,220.41 469.69,229.62 470.94,220.41 472.19,229.62 473.44,220.41 474.69,229.62 475.94,220.41 477.19,229.62 478.44,220.41 479.69,229.62 480.94,220.41 482.19,229.62 483.44,220.41 484.69,229.62 485.94,220.41 487.19,229.62 488.44,220.41 489.69,229.62 490.94,220.41 492.19,229.62 493.44,220.41 494.69,229.62 495.94,220.41 497.19,229.62 498.44,220.41 499.69,229.62 500.94,220.41 502.19,229.62 503.44,220.41 504.69,229.62 505.94,220.41 507.19,229.62 508.44,220.41 509.69,229.62 510.94,220.41 512.19,229.62 513.44,220.41 514.69,229.62 515.94,220.41 517.19,229.62 518.44,220.41 519.69,229.62 520.94,220.41 522.19,229.62 523.44,220.41 524.69,229.62 525.94,220.41 527.19,229.62 528.44,220.41 529.69,229.62 530.94,220.41 532.19,229.62 533.44,220.41 534.69,229.62 535.94,220.41 537.19,229.62 538.44,220.41" fill="none" stroke="#111" stroke-width="1" stroke-opacity="1" stroke-linejoin="round" />
<polyline points="418.44,215.25 419.69,223.1 420.94,215.49 422.19,222.82 423.44,216.14 424.69,223.27 425.94,215.44 427.19,223.56 428.44,215.78 429.69,222.91 430.94,214.56 432.19,223.83 433.44,215.26 434.69,224.87 435.94,215.17 437.19,223.39 438.44,214.43 439.69,222.95 440.94,216.21 442.19,224.05 443.44,215.25 444.69,224.96 445.94,215.77 447.19,224.6 448.44,216.63 449.69,224.87 450.94,215 452.19,224.69 453.44,216.31 454.69,224.04 455.94,214.74 457.19,224.82 458.44,215.8 459.69,223.64 460.94,214.71 462.19,222.96 463.44,214.76 464.69,224.32 465.94,215.88 467.19,224.12 468.44,214.71 469.69,222.61 470.94,216.55 472.19,224.58 473.44,216.35 474.69,224.43 475.94,215.71 477.19,223.54 478.44,216.27 479.69,225.01 480.94,215.88 482.19,224.09 483.44,215.51 484.69,222.63 485.94,215.19 487.19,223.72 488.44,215.38 489.69,223.32 490.94,216.79 492.19,222.76 493.44,214.97 494.69,222.82 495.94,214.92 497.19,224.03 498.44,215.93 499.69,224.76 500.94,215.33 502.19,224.86 503.44,216.76 504.69,224.49 505.94,216.52 507.19,224.16 508.44,216.8 509.69,225.02 510.94,216.55 512.19,224.76 513.44,216.01 514.69,224.95 515.94,214.73 517.19,223.48 518.44,216.55 519.69,224.39 520.94,216.06 522.19,224.1 523.44,216.62 524.69,222.89 525.94,214.43 527.19,223.85 528.44,215.71 529.69,224.8 530.94,216.67 532.19,224.16 533.44,216.26 534.69,222.94 535.94,216.52 537.19,224.96 538.44,214.54" fill="none" stroke="#1c1cee" stroke-width="1.2" stroke-opacity="1" stroke-linejoin="round" />
<line x1="391.93" y1="336.2" x2="391.93" y2="334" stroke="#9a9a9a" stroke-width="0.8" stroke-opacity="1"/>
<line x1="391.93" y1="196.7" x2="391.93" y2="198.9" stroke="#9a9a9a" stroke-width="0.8" stroke-opacity="1"/>
<line x1="465.57" y1="336.2" x2="465.57" y2="334" stroke="#9a9a9a" stroke-width="0.8" stroke-opacity="1"/>
<line x1="465.57" y1="196.7" x2="465.57" y2="198.9" stroke="#9a9a9a" stroke-width="0.8" stroke-opacity="1"/>
<line x1="318.3" y1="308.3" x2="320.5" y2="308.3" stroke="#9a9a9a" stroke-width="0.8" stroke-opacity="1"/>
<line x1="539.2" y1="308.3" x2="537" y2="308.3" stroke="#9a9a9a" stroke-width="0.8" stroke-opacity="1"/>
<line x1="318.3" y1="280.4" x2="320.5" y2="280.4" stroke="#9a9a9a" stroke-width="0.8" stroke-opacity="1"/>
<line x1="539.2" y1="280.4" x2="537" y2="280.4" stroke="#9a9a9a" stroke-width="0.8" stroke-opacity="1"/>
<line x1="318.3" y1="252.5" x2="320.5" y2="252.5" stroke="#9a9a9a" stroke-width="0.8" stroke-opacity="1"/>
<line x1="539.2" y1="252.5" x2="537" y2="252.5" stroke="#9a9a9a" stroke-width="0.8" stroke-opacity="1"/>
<line x1="318.3" y1="224.6" x2="320.5" y2="224.6" stroke="#9a9a9a" stroke-width="0.8" stroke-opacity="1"/>
<line x1="539.2" y1="224.6" x2="537" y2="224.6" stroke="#9a9a9a" stroke-width="0.8" stroke-opacity="1"/>
<rect x="318.2" y="196.5" width="221.2" height="139.6" fill="none" stroke="#9a9a9a" stroke-width="1"/>
<text x="316.8" y="339.1" font-size="8.4" text-anchor="end" font-weight="bold" font-family="'Liberation Sans', Arial, sans-serif" fill="#111" font-style="normal" stroke="#111" stroke-width="0.08">0</text>
<text x="316.8" y="311.2" font-size="8.4" text-anchor="end" font-weight="bold" font-family="'Liberation Sans', Arial, sans-serif" fill="#111" font-style="normal" stroke="#111" stroke-width="0.08">0.2</text>
<text x="316.8" y="283.3" font-size="8.4" text-anchor="end" font-weight="bold" font-family="'Liberation Sans', Arial, sans-serif" fill="#111" font-style="normal" stroke="#111" stroke-width="0.08">0.4</text>
<text x="316.8" y="255.4" font-size="8.4" text-anchor="end" font-weight="bold" font-family="'Liberation Sans', Arial, sans-serif" fill="#111" font-style="normal" stroke="#111" stroke-width="0.08">0.6</text>
<text x="316.8" y="227.5" font-size="8.4" text-anchor="end" font-weight="bold" font-family="'Liberation Sans', Arial, sans-serif" fill="#111" font-style="normal" stroke="#111" stroke-width="0.08">0.8</text>
<text x="316.8" y="199.6" font-size="8.4" text-anchor="end" font-weight="bold" font-family="'Liberation Sans', Arial, sans-serif" fill="#111" font-style="normal" stroke="#111" stroke-width="0.08">1</text>
<text x="318.3" y="345.2" font-size="8.4" text-anchor="middle" font-weight="bold" font-family="'Liberation Sans', Arial, sans-serif" fill="#111" font-style="normal" stroke="#111" stroke-width="0.08">0.5</text>
<text x="391.93" y="345.2" font-size="8.4" text-anchor="middle" font-weight="bold" font-family="'Liberation Sans', Arial, sans-serif" fill="#111" font-style="normal" stroke="#111" stroke-width="0.08">1</text>
<text x="465.57" y="345.2" font-size="8.4" text-anchor="middle" font-weight="bold" font-family="'Liberation Sans', Arial, sans-serif" fill="#111" font-style="normal" stroke="#111" stroke-width="0.08">1.5</text>
<text x="539.2" y="345.2" font-size="8.4" text-anchor="middle" font-weight="bold" font-family="'Liberation Sans', Arial, sans-serif" fill="#111" font-style="normal" stroke="#111" stroke-width="0.08">2</text>
<rect x="448.5" y="311.5" width="89.5" height="23.1" fill="#fff" stroke="#a8a8a8" stroke-width="1"/>
<line x1="451" y1="317.3" x2="462" y2="317.3" stroke="#444" stroke-width="1" stroke-opacity="1"/>
<text x="466.5" y="320.2" font-size="8.55" text-anchor="start" font-weight="normal" font-family="'Liberation Sans', Arial, sans-serif" fill="#1a1a1a" font-style="normal" stroke="#1a1a1a" stroke-width="0.15">Simulation</text>
<line x1="451" y1="328.2" x2="462" y2="328.2" stroke="#9090ff" stroke-width="1" stroke-opacity="1"/>
<text x="466.5" y="330.6" font-size="8.55" text-anchor="start" font-weight="normal" font-family="'Liberation Sans', Arial, sans-serif" fill="#1a1a1a" font-style="normal" stroke="#1a1a1a" stroke-width="0.15">Experiment</text>
<text x="296" y="269" font-size="8.3" text-anchor="start" font-weight="normal" font-family="'Liberation Sans', Arial, sans-serif" fill="#2a3550" font-style="normal" stroke="#2a3550" stroke-width="0.2">d</text>
<text x="418" y="349.4" font-size="8.5" text-anchor="start" font-weight="normal" font-family="'Liberation Sans', Arial, sans-serif" fill="#1a1a1a" font-style="normal" stroke="#1a1a1a" stroke-width="0.15">Time (s)</text>
<text x="423" y="372.8" font-size="13.5" text-anchor="middle" font-weight="normal" font-family="'Liberation Serif', 'Times New Roman', serif" fill="#111" font-style="normal" >(<tspan font-weight="bold">d</tspan>)</text>
</svg>
</body></html>
